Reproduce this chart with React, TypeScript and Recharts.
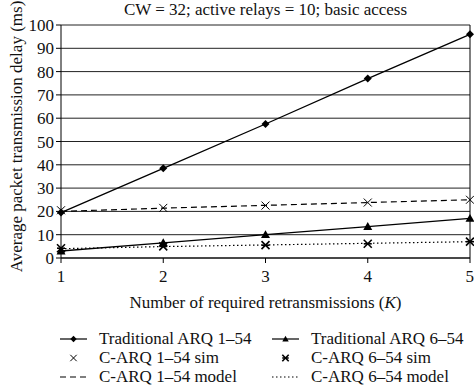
import { LineChart, Line, XAxis, YAxis, CartesianGrid, Legend, ReferenceLine } from 'recharts';

const K = [1, 2, 3, 4, 5];
const tradArq154 = [19.5, 38.5, 57.5, 77, 96];
const tradArq654 = [3, 6.5, 10, 13.5, 17];
const carq154Sim = [20.5, 21.5, 22.5, 23.8, 25];
const carq654Sim = [4.2, 5, 5.5, 6.1, 7];
const carq154Model = [20, 21.4, 22.6, 23.8, 25];
const carq654Model = [4, 4.9, 5.6, 6.3, 7];
const yTicks = [0, 10, 20, 30, 40, 50, 60, 70, 80, 90, 100];

const data = K.map((k, i) => ({
  k,
  t1: tradArq154[i],
  t6: tradArq654[i],
  s1: carq154Sim[i],
  s6: carq654Sim[i],
  m1: carq154Model[i],
  m6: carq654Model[i],
}));

const FONT = '"Liberation Serif", serif';

// marker shapes
function Diamond({ cx, cy, r = 4 }: { cx: number; cy: number; r?: number }) {
  return <polygon points={`${cx},${cy - r} ${cx + r},${cy} ${cx},${cy + r} ${cx - r},${cy}`} fill="#000" />;
}
function Triangle({ cx, cy, r = 4.5 }: { cx: number; cy: number; r?: number }) {
  return <polygon points={`${cx},${cy - r} ${cx + r},${cy + r * 0.75} ${cx - r},${cy + r * 0.75}`} fill="#000" />;
}
function Cross({ cx, cy, r = 4 }: { cx: number; cy: number; r?: number }) {
  return (
    <g stroke="#000" strokeWidth={1}>
      <line x1={cx - r} y1={cy - r} x2={cx + r} y2={cy + r} />
      <line x1={cx - r} y1={cy + r} x2={cx + r} y2={cy - r} />
    </g>
  );
}
function Star({ cx, cy, r = 4 }: { cx: number; cy: number; r?: number }) {
  return (
    <g stroke="#000" strokeWidth={1.6}>
      <line x1={cx - r} y1={cy - r} x2={cx + r} y2={cy + r} />
      <line x1={cx - r} y1={cy + r} x2={cx + r} y2={cy - r} />
      <line x1={cx - r} y1={cy} x2={cx + r} y2={cy} />
    </g>
  );
}

const dotFn = (Shape: any) => (p: any) => <Shape key={p.index} cx={p.cx} cy={p.cy} />;

const legendItems = [
  { label: 'Traditional ARQ 1–54', col: 0, row: 0, dash: undefined, line: true, Shape: Diamond },
  { label: 'Traditional ARQ 6–54', col: 1, row: 0, dash: undefined, line: true, Shape: Triangle },
  { label: 'C-ARQ 1–54 sim', col: 0, row: 1, dash: undefined, line: false, Shape: Cross },
  { label: 'C-ARQ 6–54 sim', col: 1, row: 1, dash: undefined, line: false, Shape: Star },
  { label: 'C-ARQ 1–54 model', col: 0, row: 2, dash: '6 4', line: true, Shape: null },
  { label: 'C-ARQ 6–54 model', col: 1, row: 2, dash: '1.5 2.5', line: true, Shape: null },
];

function LegendBox() {
  const colX = [60, 272];
  return (
    <svg width={474} height={62} style={{ display: 'block' }}>
      {legendItems.map((it) => {
        const x0 = colX[it.col];
        const y = 14 + it.row * 19;
        const Shape = it.Shape as any;
        return (
          <g key={it.label}>
            {it.line && <line x1={x0} y1={y} x2={x0 + 27} y2={y} stroke="#000" strokeWidth={1.2} strokeDasharray={it.dash} />}
            {Shape && <Shape cx={x0 + 13.5} cy={y} r={3.2} />}
            <text x={x0 + 39} y={y + 5} fontFamily={FONT} fontSize={17} fill="#111">{it.label}</text>
          </g>
        );
      })}
    </svg>
  );
}

function XLabel(props: any) {
  const vb = props.viewBox;
  return (
    <text x={vb.x + vb.width / 2} y={vb.y + 50} textAnchor="middle" fontFamily={FONT} fontSize={17} fill="#111">
      Number of required retransmissions (<tspan fontStyle="italic">K</tspan>)
    </text>
  );
}

export default function App() {
  return (
    <div style={{ position: 'absolute', left: 0, top: 0, width: 474, height: 390, background: '#fff' }}>
      <div style={{ position: 'absolute', left: 61, width: 409, top: 0, textAlign: 'center', fontFamily: FONT, fontSize: 17, color: '#111' }}>
        CW = 32; active relays = 10; basic access
      </div>
      <LineChart width={474} height={390} data={data} margin={{ top: 25, right: 4, bottom: 3, left: 0 }}>
        <CartesianGrid vertical={false} stroke="#222" strokeWidth={1} />
        <XAxis
          dataKey="k"
          type="number"
          domain={[1, 5]}
          ticks={K}
          height={67}
          tickSize={5}
          tickMargin={7}
          stroke="#000"
          tick={{ fill: '#111', fontFamily: FONT, fontSize: 17 }}
          label={<XLabel />}
        />
        <YAxis
          type="number"
          domain={[0, 100]}
          ticks={yTicks}
          width={61}
          tickSize={5}
          stroke="#000"
          interval={0}
          tick={{ fill: '#111', fontFamily: FONT, fontSize: 17 }}
          label={{ value: 'Average packet transmission delay (ms)', angle: -90, position: 'insideLeft', offset: 16, dy: -5, style: { textAnchor: 'middle', fontFamily: FONT, fontSize: 17, fill: '#111' } }}
        />
        <ReferenceLine x={5} stroke="#000" />
        <Legend verticalAlign="bottom" height={62} content={() => <LegendBox />} />
        <Line dataKey="t1" stroke="#000" strokeWidth={1.3} dot={dotFn(Diamond)} isAnimationActive={false} />
        <Line dataKey="t6" stroke="#000" strokeWidth={1.3} dot={dotFn(Triangle)} isAnimationActive={false} />
        <Line dataKey="m1" stroke="#000" strokeWidth={1.2} strokeDasharray="6 4" dot={false} isAnimationActive={false} />
        <Line dataKey="m6" stroke="#000" strokeWidth={1.2} strokeDasharray="1.5 2.5" dot={false} isAnimationActive={false} />
        <Line dataKey="s1" stroke="none" dot={dotFn(Cross)} isAnimationActive={false} />
        <Line dataKey="s6" stroke="none" dot={dotFn(Star)} isAnimationActive={false} />
      </LineChart>
    </div>
  );
}
